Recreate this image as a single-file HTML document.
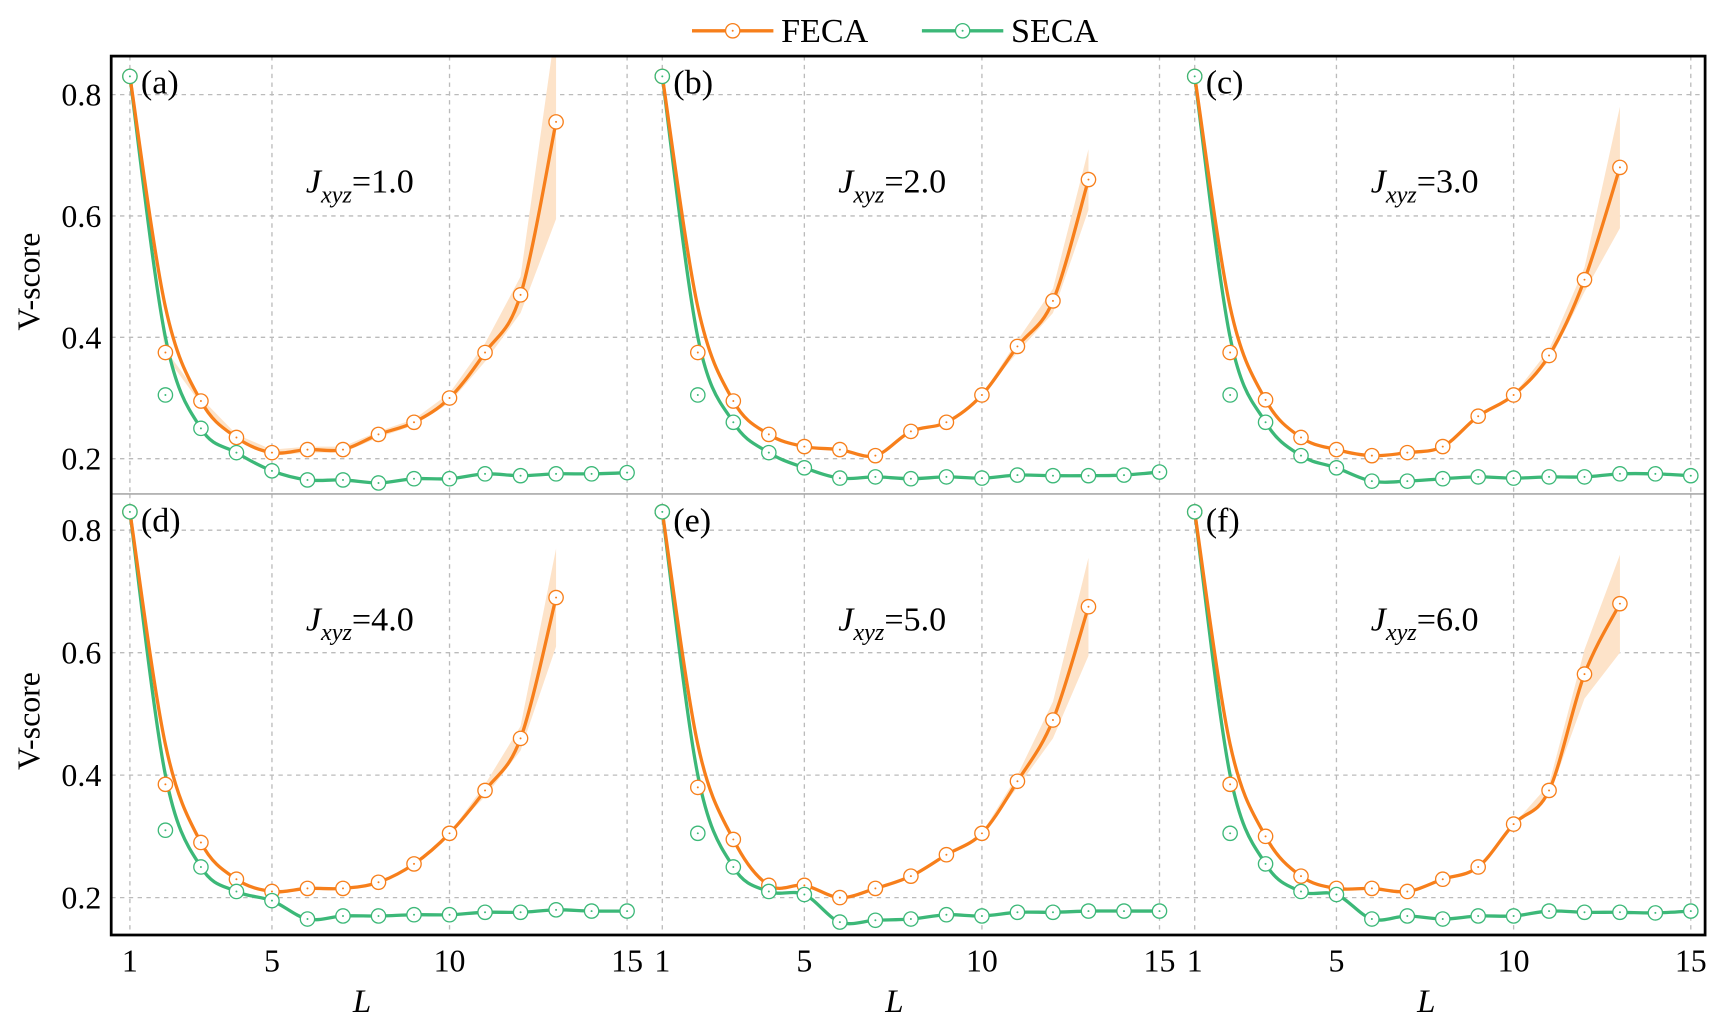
<!DOCTYPE html>
<html><head><meta charset="utf-8"><style>
html,body{margin:0;padding:0;background:#fff;}
svg{display:block;font-family:"Liberation Serif",serif;}
</style></head><body>
<svg id="s" width="1725" height="1023" viewBox="0 0 1568 930" xmlns="http://www.w3.org/2000/svg"></svg>
<script>
const S=document.getElementById('s');let h='';
const OR='#f77f1b',GR='#3cb878',BAND='#fde3c9';
const cols=[{x1:118,x15:570,l:101,r:586},{x1:602,x15:1054,l:586,r:1070},{x1:1086,x15:1537,l:1070,r:1550}];
const rows=[{y8:86,y2:417,t:51,b:449},{y8:482,y2:816,t:449,b:850}];
const F=[
[.83,.375,.295,.235,.21,.215,.215,.24,.26,.30,.375,.47,.755],
[.83,.375,.295,.24,.22,.215,.205,.245,.26,.305,.385,.46,.66],
[.83,.375,.297,.235,.215,.205,.21,.22,.27,.305,.37,.495,.68],
[.83,.385,.29,.23,.21,.215,.215,.225,.255,.305,.375,.46,.69],
[.83,.38,.295,.22,.22,.2,.215,.235,.27,.305,.39,.49,.675],
[.83,.385,.30,.235,.215,.215,.21,.23,.25,.32,.375,.565,.68]];
const G=[
[.83,.305,.25,.21,.18,.165,.165,.16,.167,.167,.175,.172,.175,.175,.177],
[.83,.305,.26,.21,.185,.168,.17,.167,.17,.168,.173,.172,.172,.173,.178],
[.83,.305,.26,.205,.185,.163,.163,.167,.17,.168,.17,.17,.175,.175,.172],
[.83,.31,.25,.21,.195,.165,.17,.17,.172,.172,.176,.176,.18,.178,.178],
[.83,.305,.25,.21,.205,.16,.163,.165,.172,.17,.176,.176,.178,.178,.178],
[.83,.305,.255,.21,.205,.165,.17,.165,.17,.17,.178,.176,.176,.175,.178]];
const Bw=[[.005,.005,.005,.005,.005,.005,.005,.005,.005,.008,.015,.03,.16],[0,0,0,0,0,0,0,0,0,0,.01,.02,.05],[0,0,0,0,0,0,0,0,0,0,.01,.02,.1],[0,0,0,0,0,0,0,0,0,0,.01,.02,.08],[0,0,0,0,0,0,0,0,0,0,.01,.03,.08],[0,0,0,0,0,0,0,0,0,0,.01,.04,.08]];
function cr(p){let d='M'+p[0][0]+','+p[0][1];for(let i=0;i<p.length-1;i++){const p0=p[Math.max(i-1,0)],p1=p[i],p2=p[i+1],p3=p[Math.min(i+2,p.length-1)];
d+=` C${p1[0]+(p2[0]-p0[0])/6},${p1[1]+(p2[1]-p0[1])/6} ${p2[0]-(p3[0]-p1[0])/6},${p2[1]-(p3[1]-p1[1])/6} ${p2[0]},${p2[1]}`;}return d;}
function mk(x,y,c){return `<circle cx="${x}" cy="${y}" r="6.5" fill="#fff" stroke="${c}" stroke-width="1.2"/><circle cx="${x}" cy="${y}" r="0.9" fill="${c}"/>`;}
rows.forEach((R,ri)=>{const ys=v=>R.y2-(v-.2)/.6*(R.y2-R.y8);
 [.2,.4,.6,.8].forEach(v=>{h+=`<line x1="101" x2="1550" y1="${ys(v)}" y2="${ys(v)}" stroke="#bbb" stroke-dasharray="4,4" stroke-width="1.2"/>`;
  h+=`<text x="92" y="${ys(v)+10}" font-size="29" text-anchor="end">${v.toFixed(1)}</text>`;});
 h+=`<text transform="translate(36,${(R.t+R.b)/2+6}) rotate(-90)" font-size="29" text-anchor="middle">V-score</text>`;
 cols.forEach(C=>{const xs=L=>C.x1+(L-1)/14*(C.x15-C.x1);[1,5,10,15].forEach(L=>{h+=`<line x1="${xs(L)}" x2="${xs(L)}" y1="${R.t}" y2="${R.b}" stroke="#bbb" stroke-dasharray="4,4" stroke-width="1.2"/>`;});});
});
h+=`<line x1="101" x2="1550" y1="449" y2="449" stroke="#aaa" stroke-width="1.5"/>`;
const lab=['a','b','c','d','e','f'];
for(let k=0;k<6;k++){const R=rows[Math.floor(k/3)],C=cols[k%3];
 const ys=v=>R.y2-(v-.2)/.6*(R.y2-R.y8),xs=L=>C.x1+(L-1)/14*(C.x15-C.x1);
 h+=`<clipPath id="c${k}"><rect x="101" y="${R.t}" width="1449" height="${R.b-R.t}"/></clipPath><g clip-path="url(#c${k})">`;
 const f=F[k],g=G[k],b=Bw[k];
 let up=[],dn=[];for(let i=0;i<13;i++){up.push([xs(i+1),ys(f[i]+b[i])]);dn.push([xs(i+1),ys(f[i]-b[i])]);}
 h+=`<path d="M${up.map(p=>p.join(',')).join(' L')} L${dn.reverse().map(p=>p.join(',')).join(' L')} Z" fill="${BAND}"/>`;
 const fl=f.map((v,i)=>[xs(i+1),ys(i==1?0.45:v)]),gl=g.map((v,i)=>[xs(i+1),ys(i==1?0.40:v)]);
 h+=`<path d="${cr(gl)}" fill="none" stroke="${GR}" stroke-width="3"/>`;
 h+=`<path d="${cr(fl)}" fill="none" stroke="${OR}" stroke-width="3"/>`;
 f.forEach((v,i)=>h+=mk(xs(i+1),ys(v),OR));g.forEach((v,i)=>h+=mk(xs(i+1),ys(v),GR));
 h+='</g>';
 h+=`<text x="${C.x1+10}" y="${R.t+34}" font-size="31">(${lab[k]})</text>`;
 h+=`<text x="${C.x1+160}" y="${R.t+124}" font-size="31"><tspan font-style="italic">J</tspan><tspan font-style="italic" font-size="22" dy="9">xyz</tspan><tspan dy="-9">=${(k+1).toFixed(1)}</tspan></text>`;
}
h+=`<rect x="101" y="51" width="1449" height="799" fill="none" stroke="#000" stroke-width="2.5"/>`;
cols.forEach(C=>{const xs=L=>C.x1+(L-1)/14*(C.x15-C.x1);[1,5,10,15].forEach(L=>{h+=`<text x="${xs(L)}" y="883" font-size="29" text-anchor="middle">${L}</text>`;});
 h+=`<text x="${(C.x1+C.x15)/2-15}" y="920" font-size="30" font-style="italic" text-anchor="middle">L</text>`;});
h+=`<line x1="629" x2="703" y1="28" y2="28" stroke="${OR}" stroke-width="3"/>`+mk(666,28,OR)+`<text x="710" y="38" font-size="31">FECA</text>`;
h+=`<line x1="838" x2="912" y1="28" y2="28" stroke="${GR}" stroke-width="3"/>`+mk(875,28,GR)+`<text x="919" y="38" font-size="31">SECA</text>`;
S.innerHTML=h;
</script>
</body></html>
